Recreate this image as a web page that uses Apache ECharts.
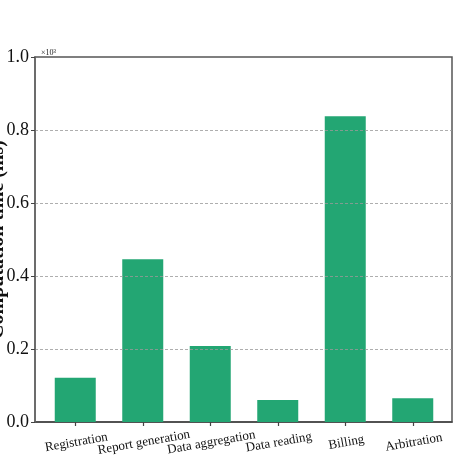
<!DOCTYPE html>
<html>
<head>
<meta charset="utf-8">
<script src="https://cdn.jsdelivr.net/npm/echarts@6/dist/echarts.min.js"></script>
<style>
  html, body { margin: 0; padding: 0; background: #fff; }
  #chart { width: 474px; height: 474px; }
</style>
</head>
<body>
<div id="chart"></div>
<script>
// categories and values (x10^3 ms)
var categories = ['Registration', 'Report generation', 'Data aggregation', 'Data reading', 'Billing', 'Arbitration'];
var timeValues = [0.121, 0.446, 0.208, 0.060, 0.838, 0.065];
var yTicks = [0, 0.2, 0.4, 0.6, 0.8, 1.0];

var myChart = echarts.init(document.getElementById('chart'));

var font = 'Liberation Serif';

// grid 0 = frame with y ticks and dashed grid lines, grid 1 = the bars (inset like matplotlib margins)
option = {
    animation: false,
    title: {
        text: '×10³',
        left: 36,
        top: 44,
        textStyle: { fontFamily: font, fontSize: 8, fontWeight: 'normal', color: '#222' }
    },
    grid: [{
        left: 35, right: 22, top: 57, bottom: 52,
        outerBoundsMode: 'none',
        show: true,
        borderColor: '#555',
        borderWidth: 1.5
    }, {
        left: 41.5, right: 27.5, top: 57, bottom: 52,
        outerBoundsMode: 'none'
    }],
    xAxis: [{
        gridIndex: 0,
        type: 'value',
        min: 0, max: 1,
        splitLine: { show: false },
        axisTick: { show: false },
        axisLabel: { show: false },
        axisLine: { show: true, onZero: false, lineStyle: { color: '#444', width: 1.5 } }
    }, {
        gridIndex: 1,
        type: 'category',
        data: categories,
        axisLine: { show: false },
        axisTick: { show: true, alignWithLabel: true, length: 4, lineStyle: { color: '#444', width: 1.2 } },
        axisLabel: {
            interval: 0,
            rotate: 10,
            align: 'center',
            verticalAlign: 'top',
            margin: 14,
            fontFamily: font,
            fontSize: 13,
            color: '#111'
        }
    }],
    yAxis: [{
        gridIndex: 0,
        type: 'value',
        min: 0,
        max: 1.0,
        interval: 0.2,
        z: 3,
        name: 'Computation time (ms)',
        nameLocation: 'middle',
        nameGap: 27,
        nameMoveOverlap: false,
        nameTextStyle: { fontFamily: font, fontSize: 20, fontWeight: 'bold', color: '#111' },
        axisLine: { show: true, onZero: false, lineStyle: { color: '#666', width: 1.5 } },
        axisTick: { show: true, length: 4, lineStyle: { color: '#444' } },
        splitLine: {
            show: true,
            showMinLine: false,
            showMaxLine: false,
            lineStyle: { color: '#999', type: [3, 2], width: 0.8 }
        },
        axisLabel: {
            formatter: function (v) { return v.toFixed(1); },
            margin: 6,
            fontFamily: font,
            fontSize: 18,
            color: '#111'
        }
    }, {
        gridIndex: 1,
        type: 'value',
        min: 0,
        max: 1.0,
        show: false
    }],
    series: [{
        type: 'bar',
        xAxisIndex: 1,
        yAxisIndex: 1,
        data: timeValues,
        barWidth: 41,
        itemStyle: { color: '#23a673' }
    }]
};

myChart.setOption(option);
</script>
</body>
</html>
